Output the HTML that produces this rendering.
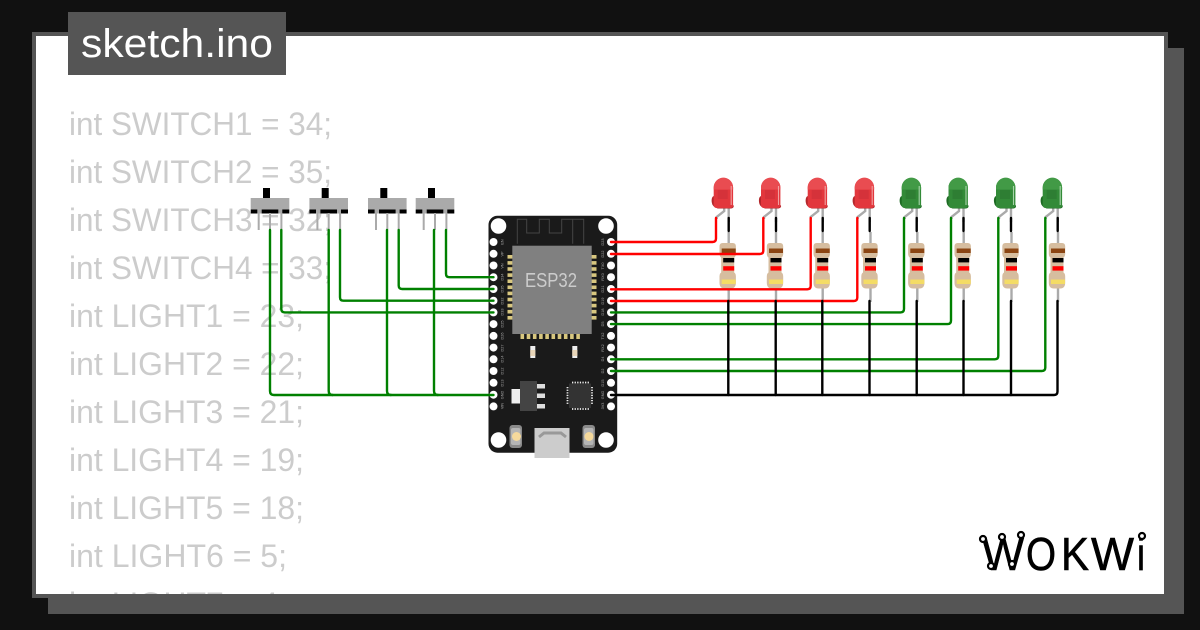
<!DOCTYPE html>
<html><head><meta charset="utf-8"><style>
html,body{margin:0;padding:0;background:#111;width:1200px;height:630px;overflow:hidden}
svg{display:block}
</style></head><body>
<svg width="1200" height="630" viewBox="0 0 1200 630" xmlns="http://www.w3.org/2000/svg" font-family="'Liberation Sans',sans-serif">
<defs>
<clipPath id="card"><rect x="36" y="36" width="1128" height="558"/></clipPath>
<g id="col" fill="#fff">
<circle cy="242" r="4"/><circle cy="253.8" r="4"/><circle cy="265.5" r="4"/><circle cy="277.2" r="4"/><circle cy="289" r="4"/><circle cy="300.7" r="4"/><circle cy="312.4" r="4"/><circle cy="324.1" r="4"/><circle cy="335.9" r="4"/><circle cy="347.6" r="4"/><circle cy="359.3" r="4"/><circle cy="371" r="4"/><circle cy="382.8" r="4"/><circle cy="394.7" r="4"/><circle cy="406.4" r="4"/>
</g>
<g id="sw">
<rect x="13" y="-10" width="7" height="10" fill="#000"/>
<rect x="0.7" y="0" width="38.6" height="11.5" fill="#aaa"/>
<rect x="0.7" y="11.5" width="38.6" height="4" fill="#000"/>
<g stroke="#aaa" stroke-width="2"><path d="M8.7 15V32M20 15V32M31.4 15V32"/></g>
<rect x="7.3" y="11.5" width="4.4" height="4" fill="#aaa"/><rect x="28.3" y="11.5" width="4" height="4" fill="#aaa"/>
</g>
<g id="res">
<path d="M0 232V302" stroke="#aaa" stroke-width="2.4"/>
<path d="M-4 243h8q3.200 0 3.200 3.500v7q0 3-1.700 4v15q1.700 1 1.700 4v6q0 6-5 6h-6.400q-5 0-5-6v-6q0-3 1.700-4v-15q-1.700-1-1.700-4v-7q0-3.500 3.200-3.500z" fill="#d6bd9f"/>
<rect x="-7" y="248.500" width="14" height="4.500" fill="#8b4513"/>
<rect x="-5.500" y="258" width="11" height="4.400" fill="#000"/>
<rect x="-5.500" y="266.200" width="11" height="4.400" fill="#f00"/>
<rect x="-7" y="279.500" width="14" height="4.500" fill="#f4dc65"/>
</g>
<g id="ledlegs" fill="none" stroke="#aaa" stroke-width="2.400">
<path d="M0 207V222"/><path d="M-4.500 207V211L-12 217V219"/>
</g>
<g id="ledr">
<use href="#ledlegs"/>
<path d="M-15 196q-2.500 1-2 6q.5 5 6 6.500h13.500q3-.5 2.500-3l-20-9.500z" fill="#b3262b"/>
<path d="M-15 187.500a9.700 9.700 0 0 1 19.400 0V205q0 3-3 3h-13q-3.400 0-3.400-3z" fill="#e2373d"/>
<path d="M-15 187.500a9.700 9.700 0 0 1 19.400 0v2h-19.400z" fill="#e94c51"/>
<path d="M-11 190h10v9h-10z" fill="#d5323a"/>
<path d="M2.500 186V205" stroke="#f2a0a0" stroke-width="1.100"/>
</g>
<g id="ledg">
<use href="#ledlegs"/>
<path d="M-15 196q-2.500 1-2 6q.5 5 6 6.500h13.500q3-.5 2.500-3l-20-9.500z" fill="#1d6a23"/>
<path d="M-15 187.500a9.700 9.700 0 0 1 19.400 0V205q0 3-3 3h-13q-3.400 0-3.400-3z" fill="#338a38"/>
<path d="M-15 187.500a9.700 9.700 0 0 1 19.400 0v2h-19.400z" fill="#429a46"/>
<path d="M-11 190h10v9h-10z" fill="#2e7e33"/>
<path d="M2.500 186V205" stroke="#a8d4aa" stroke-width="1.100"/>
</g>
</defs>

<rect width="1200" height="630" fill="#111"/>
<rect x="48" y="48" width="1136" height="566" fill="#555"/>
<rect x="32" y="32" width="1136" height="566" fill="#555"/>
<rect x="36" y="36" width="1128" height="558" fill="#fff"/>

<g clip-path="url(#card)" fill="#ccc" font-size="32">
<text x="69" y="135" textLength="263" lengthAdjust="spacingAndGlyphs">int SWITCH1 = 34;</text>
<text x="69" y="183" textLength="263" lengthAdjust="spacingAndGlyphs">int SWITCH2 = 35;</text>
<text x="69" y="231" textLength="263" lengthAdjust="spacingAndGlyphs">int SWITCH3 = 32;</text>
<text x="69" y="279" textLength="263" lengthAdjust="spacingAndGlyphs">int SWITCH4 = 33;</text>
<text x="69" y="327" textLength="235" lengthAdjust="spacingAndGlyphs">int LIGHT1 = 23;</text>
<text x="69" y="375" textLength="235" lengthAdjust="spacingAndGlyphs">int LIGHT2 = 22;</text>
<text x="69" y="423" textLength="235" lengthAdjust="spacingAndGlyphs">int LIGHT3 = 21;</text>
<text x="69" y="471" textLength="235" lengthAdjust="spacingAndGlyphs">int LIGHT4 = 19;</text>
<text x="69" y="519" textLength="235" lengthAdjust="spacingAndGlyphs">int LIGHT5 = 18;</text>
<text x="69" y="567" textLength="218" lengthAdjust="spacingAndGlyphs">int LIGHT6 = 5;</text>
<text x="69" y="615" textLength="218" lengthAdjust="spacingAndGlyphs">int LIGHT7 = 4;</text>
</g>

<rect x="68" y="12" width="218" height="63" fill="#555"/>
<text x="81" y="57" font-size="40" fill="#fff" textLength="192" lengthAdjust="spacingAndGlyphs">sketch.ino</text>

<!-- switches -->
<use href="#sw" x="250" y="198"/>
<use href="#sw" x="308.700" y="198"/>
<use href="#sw" x="367.300" y="198"/>
<use href="#sw" x="415" y="198"/>

<!-- LEDs and resistors -->
<use href="#ledr" x="728.700"/><use href="#ledr" x="776"/><use href="#ledr" x="822.700"/><use href="#ledr" x="869.700"/>
<use href="#ledg" x="916.700"/><use href="#ledg" x="963.500"/><use href="#ledg" x="1011"/><use href="#ledg" x="1057.700"/>
<use href="#res" x="728.700"/><use href="#res" x="776"/><use href="#res" x="822.700"/><use href="#res" x="870.500"/>
<use href="#res" x="917.300"/><use href="#res" x="963.700"/><use href="#res" x="1011.500"/><use href="#res" x="1058"/>

<!-- board -->
<rect x="488.500" y="215.700" width="128.700" height="237" rx="9" fill="#1a1a1a"/>
<use href="#col" x="493.500"/><use href="#col" x="611"/>
<g fill="#fff"><circle cx="498.500" cy="226" r="7.800"/><circle cx="606" cy="226" r="7.800"/><circle cx="498.500" cy="440" r="7.800"/><circle cx="606" cy="440" r="7.800"/></g>
<path d="M517.300 243.700V219.300H526.700V233H539.300V219.300H549.300V233H561.700V219.300H583.700V243.700M572.700 219.300V243.700" fill="none" stroke="#444" stroke-width="1"/>
<g fill="#d8c77f">
<rect x="507.500" y="255" width="5" height="3.600"/><rect x="507.500" y="261.100" width="5" height="3.600"/><rect x="507.500" y="267.200" width="5" height="3.600"/><rect x="507.500" y="273.300" width="5" height="3.600"/><rect x="507.500" y="279.400" width="5" height="3.600"/><rect x="507.500" y="285.500" width="5" height="3.600"/><rect x="507.500" y="291.600" width="5" height="3.600"/><rect x="507.500" y="297.700" width="5" height="3.600"/><rect x="507.500" y="303.800" width="5" height="3.600"/><rect x="507.500" y="309.900" width="5" height="3.600"/><rect x="507.500" y="316" width="5" height="3.600"/>
<rect x="591.500" y="255" width="5" height="3.600"/><rect x="591.500" y="261.100" width="5" height="3.600"/><rect x="591.500" y="267.200" width="5" height="3.600"/><rect x="591.500" y="273.300" width="5" height="3.600"/><rect x="591.500" y="279.400" width="5" height="3.600"/><rect x="591.500" y="285.500" width="5" height="3.600"/><rect x="591.500" y="291.600" width="5" height="3.600"/><rect x="591.500" y="297.700" width="5" height="3.600"/><rect x="591.500" y="303.800" width="5" height="3.600"/><rect x="591.500" y="309.900" width="5" height="3.600"/><rect x="591.500" y="316" width="5" height="3.600"/>
<rect x="520.500" y="334" width="3.600" height="5"/><rect x="526.700" y="334" width="3.600" height="5"/><rect x="532.900" y="334" width="3.600" height="5"/><rect x="539.100" y="334" width="3.600" height="5"/><rect x="545.300" y="334" width="3.600" height="5"/><rect x="551.500" y="334" width="3.600" height="5"/><rect x="557.700" y="334" width="3.600" height="5"/><rect x="563.900" y="334" width="3.600" height="5"/><rect x="570.100" y="334" width="3.600" height="5"/><rect x="576.300" y="334" width="3.600" height="5"/>
</g>
<rect x="512.300" y="245.700" width="79.400" height="88.300" fill="#808080"/>
<text x="525" y="287" font-size="20" fill="#ccc" textLength="52" lengthAdjust="spacingAndGlyphs">ESP32</text>
<!-- pin labels -->
<g font-size="3.800" fill="#aaa" text-anchor="middle">
<text transform="translate(503.500 242) rotate(-90)">EN</text><text transform="translate(503.500 254) rotate(-90)">VP</text><text transform="translate(503.500 266) rotate(-90)">VN</text><text transform="translate(503.500 277) rotate(-90)">D34</text><text transform="translate(503.500 289) rotate(-90)">D35</text><text transform="translate(503.500 301) rotate(-90)">D32</text><text transform="translate(503.500 312) rotate(-90)">D33</text><text transform="translate(503.500 324) rotate(-90)">D25</text><text transform="translate(503.500 336) rotate(-90)">D26</text><text transform="translate(503.500 348) rotate(-90)">D27</text><text transform="translate(503.500 359) rotate(-90)">D14</text><text transform="translate(503.500 371) rotate(-90)">D12</text><text transform="translate(503.500 383) rotate(-90)">D13</text><text transform="translate(503.500 395) rotate(-90)">GND</text><text transform="translate(503.500 406) rotate(-90)">VIN</text>
<text transform="translate(604 242) rotate(-90)">D23</text><text transform="translate(604 254) rotate(-90)">D22</text><text transform="translate(604 266) rotate(-90)">TX0</text><text transform="translate(604 277) rotate(-90)">RX0</text><text transform="translate(604 289) rotate(-90)">D21</text><text transform="translate(604 301) rotate(-90)">D19</text><text transform="translate(604 312) rotate(-90)">D18</text><text transform="translate(604 324) rotate(-90)">D5</text><text transform="translate(604 336) rotate(-90)">TX2</text><text transform="translate(604 348) rotate(-90)">RX2</text><text transform="translate(604 359) rotate(-90)">D4</text><text transform="translate(604 371) rotate(-90)">D2</text><text transform="translate(604 383) rotate(-90)">D15</text><text transform="translate(604 395) rotate(-90)">GND</text><text transform="translate(604 406) rotate(-90)">3V3</text>
</g>
<!-- small smd leds -->
<rect x="530.300" y="346" width="5" height="12" fill="#eee"/><rect x="530.300" y="350" width="5" height="6" fill="#e8d5b8"/>
<rect x="572.300" y="346" width="5" height="12" fill="#eee"/><rect x="572.300" y="350" width="5" height="6" fill="#e8d5b8"/>
<!-- regulator -->
<rect x="537" y="384" width="8" height="4.500" fill="#ddd"/><rect x="537" y="393.500" width="8" height="4.500" fill="#ddd"/><rect x="537" y="404" width="8" height="4.500" fill="#ddd"/>
<rect x="511.500" y="389" width="9" height="14.500" fill="#eee"/>
<rect x="520" y="381" width="17" height="30" fill="#444"/>
<!-- QFN -->
<rect x="569" y="383.500" width="22" height="24.500" fill="#333"/>
<path d="M572 382.500H589M572 409H589M567.500 387V405M592 387V405" stroke="#eee" stroke-width="1.800" stroke-dasharray="1.300 1.300" fill="none"/>
<!-- buttons -->
<rect x="509.500" y="425" width="12.500" height="23" rx="3" fill="#8a8a8a"/><rect x="511" y="428" width="9.500" height="17" rx="2" fill="#b5b5b5"/><circle cx="516.500" cy="436.500" r="4.500" fill="#f5d99c"/>
<rect x="582.500" y="425" width="12.500" height="23" rx="3" fill="#8a8a8a"/><rect x="584" y="428" width="9.500" height="17" rx="2" fill="#b5b5b5"/><circle cx="589" cy="436.500" r="4.500" fill="#f5d99c"/>
<!-- usb -->
<rect x="534.500" y="428" width="35" height="30" fill="#ccc"/>
<path d="M539 437L544 433H561L566 437" fill="none" stroke="#999" stroke-width="3"/>

<!-- wires -->
<g fill="none" stroke-width="2.400" stroke-linecap="round">
<g stroke="#008000">
<path d="M446 230V273.700q0 3.500 3.500 3.500H493.500"/>
<path d="M398.700 230V285.500q0 3.500 3.500 3.500H493.500"/>
<path d="M340 230V297.200q0 3.500 3.500 3.500H493.500"/>
<path d="M281.300 230V308.900q0 3.500 3.500 3.500H493.500"/>
<path d="M270 230V391q0 4 4 4H493.500"/>
<path d="M328.700 230V391q0 4 4 4"/>
<path d="M387 230V391q0 4 4 4"/>
<path d="M434 230V391q0 4 4 4"/>
<path d="M611 312.400H900.500q3.500 0 3.500-3.500V218"/>
<path d="M611 324.100H947.500q3.500 0 3.500-3.500V218"/>
<path d="M611 359.300H994.800q3.500 0 3.500-3.500V218"/>
<path d="M611 371H1041.800q3.500 0 3.500-3.500V218"/>
</g>
<g stroke="#f00">
<path d="M611 242H712.500q3.500 0 3.500-3.500V218"/>
<path d="M611 254H759.800q3.500 0 3.500-3.500V218"/>
<path d="M611 289.300H807.200q3.500 0 3.500-3.500V218"/>
<path d="M611 301H853.800q3.500 0 3.500-3.500V218"/>
</g>
<g stroke="#000">
<path d="M611 395H1054q3.500 0 3.500-3.500V301"/>
<path d="M728.300 395V301M775.700 395V301M822.300 395V301M869.500 395V301M916.700 395V301M963.500 395V301M1011 395V301"/>
<path d="M728.700 218V231M776 218V231M822.700 218V231M869.700 218V231M916.700 218V231M963.500 218V231M1011 218V231M1057.700 218V231"/>
</g>
</g>

<!-- logo -->
<g fill="#000" font-size="46" stroke="#000" stroke-width=".6">
<text x="982" y="570" textLength="42" lengthAdjust="spacingAndGlyphs">W</text>
<text x="1026" y="570" textLength="30" lengthAdjust="spacingAndGlyphs">O</text>
<text x="1061" y="570" textLength="28" lengthAdjust="spacingAndGlyphs">K</text>
<text x="1091" y="570" textLength="43" lengthAdjust="spacingAndGlyphs">W</text>
<text x="1137" y="570" textLength="8" lengthAdjust="spacingAndGlyphs">i</text>
</g>
<g fill="#fff" stroke="#000" stroke-width="2.200">
<circle cx="983" cy="539" r="3"/><circle cx="1002" cy="537" r="3"/><circle cx="1021" cy="535" r="3"/><circle cx="991" cy="566" r="3"/><circle cx="1012" cy="564" r="3"/><circle cx="1142" cy="536" r="3"/>
</g>
</svg>
</body></html>
